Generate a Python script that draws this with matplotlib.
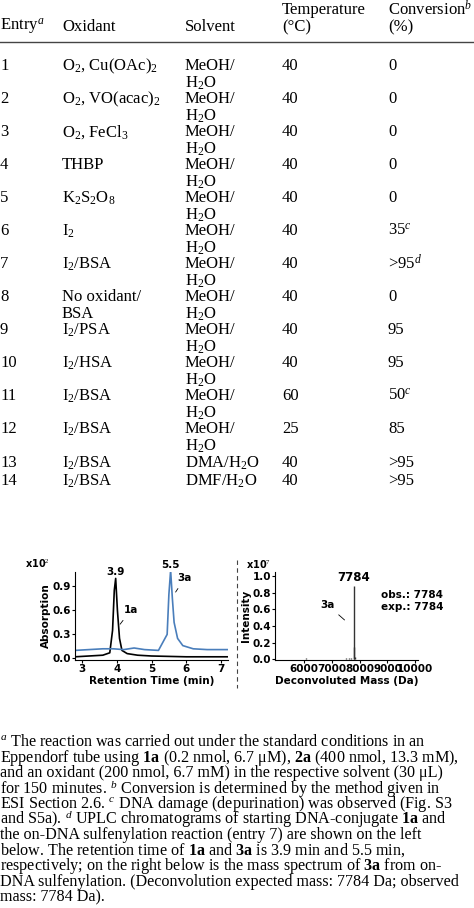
import matplotlib.pyplot as plt

plt.rcParams['mathtext.fontset'] = 'custom'
plt.rcParams['mathtext.rm'] = 'Liberation Serif'
plt.rcParams['mathtext.it'] = 'Liberation Serif:italic'
plt.rcParams['mathtext.bf'] = 'Liberation Serif:bold'

W, H = 474, 908
SERIF = 'Liberation Serif'

# table data
entries = ['1', '2', '3', '4', '5', '6', '7', '8', '9', '10', '11', '12', '13', '14']
oxidants = [r'O$_2$, Cu(OAc)$_2$', r'O$_2$, VO(acac)$_2$', r'O$_2$, FeCl$_3$', 'THBP',
            r'K$_2$S$_2$O$_8$', r'I$_2$', r'I$_2$/BSA', 'No oxidant/\nBSA', r'I$_2$/PSA',
            r'I$_2$/HSA', r'I$_2$/BSA', r'I$_2$/BSA', r'I$_2$/BSA', r'I$_2$/BSA']
solvents = ['MeOH/\nH$_2$O'] * 12 + [r'DMA/H$_2$O', r'DMF/H$_2$O']
temps = ['40'] * 10 + ['60', '25', '40', '40']
convs = ['0', '0', '0', '0', '0', r'35$^{c}$', r'>95$^{d}$', '0', '95', '95',
         r'50$^{c}$', '85', '>95', '>95']

# UPLC traces (retention time min, absorption x10^2)
t_1a = [2.8, 3.2, 3.6, 3.8, 3.88, 3.93, 3.97, 4.02, 4.08, 4.15, 4.3, 4.6, 5.0, 6.0, 7.2]
a_1a = [0.02, 0.03, 0.04, 0.07, 0.35, 0.85, 1.0, 0.6, 0.25, 0.1, 0.06, 0.04, 0.03, 0.02, 0.02]
t_3a = [2.8, 3.2, 3.6, 3.9, 4.2, 4.5, 4.8, 5.2, 5.45, 5.5, 5.55, 5.6, 5.65, 5.75, 5.9, 6.2, 6.6, 7.2]
a_3a = [0.1, 0.11, 0.12, 0.12, 0.11, 0.13, 0.11, 0.1, 0.3, 0.8, 1.1, 0.75, 0.45, 0.25, 0.16, 0.12, 0.11, 0.11]

# deconvoluted mass spectrum
mass = [5600, 6050, 7500, 7600, 7700, 7784, 7810, 7840]
inten = [0.005, 0.01, 0.01, 0.015, 0.02, 0.88, 0.15, 0.03]

fig = plt.figure(figsize=(W / 100, H / 100), dpi=100)


def txt(x, y, s, **kw):
    kw.setdefault('fontsize', 12)
    kw.setdefault('family', SERIF)
    fig.text(x / W, 1 - y / H, s, va='center', ha=kw.pop('ha', 'left'),
             linespacing=1.25, **kw)


# header
txt(0, 27, r'Entry$^{a}$')
txt(62, 27, 'Oxidant')
txt(185, 27, 'Solvent')
txt(282, 10, 'Temperature')
txt(282, 27, '(°C)')
txt(388, 10, r'Conversion$^{b}$')
txt(388, 27, '(%)')
fig.add_artist(plt.Line2D([0, 1], [1 - 42 / H] * 2, color='#444444', lw=1.0))

for i in range(len(entries)):
    y = 66 + 33 * i if i < 13 else 481
    if i == 12:
        y = 463
    txt(0, y, entries[i])
    if '\n' in oxidants[i]:
        txt(62, y, 'No oxidant/')
        txt(62, y + 17, 'BSA')
    else:
        txt(62, y, oxidants[i])
    if '\n' in solvents[i]:
        txt(185, y, 'MeOH/')
        txt(185, y + 17, r'H$_2$O')
    else:
        txt(185, y, solvents[i])
    txt(282, y, temps[i])
    txt(388, y, convs[i])

# left chart
sf = dict(family='DejaVu Sans', fontweight='bold')
ax1 = fig.add_axes([75 / W, 1 - 660 / H, 153 / W, 88 / H])
ax1.plot(t_1a, a_1a, color='black', lw=1.2)
ax1.plot(t_3a, a_3a, color='#4a7ebb', lw=1.2)
ax1.set_xlim(2.8, 7.2)
ax1.set_ylim(-0.02, 1.08)
ax1.set_xticks([3, 4, 5, 6, 7])
ax1.set_yticks([0.0, 0.3, 0.6, 0.9])
ax1.set_yticklabels(['0.0', '0.3', '0.6', '0.9'])
for s in ['top', 'right']:
    ax1.spines[s].set_visible(False)
ax1.tick_params(labelsize=7.5, length=2, pad=1)
for lab in ax1.get_xticklabels() + ax1.get_yticklabels():
    lab.set_fontweight('bold')
ax1.set_xlabel('Retention Time (min)', fontsize=7.5, labelpad=1, **sf)
ax1.set_ylabel('Absorption', fontsize=7.5, labelpad=1, **sf)
ax1.text(-0.33, 1.05, r'x10$^2$', transform=ax1.transAxes, fontsize=7, **sf)
ax1.text(3.97, 1.02, '3.9', ha='center', va='bottom', fontsize=7.5, **sf)
ax1.text(5.55, 1.1, '5.5', ha='center', va='bottom', fontsize=7.5, **sf)
ax1.annotate('1a', xy=(4.05, 0.4), xytext=(4.4, 0.6), fontsize=7.5, ha='center', va='center',
             arrowprops=dict(arrowstyle='-', lw=0.6), **sf)
ax1.annotate('3a', xy=(5.65, 0.8), xytext=(5.95, 1.0), fontsize=7.5, ha='center', va='center',
             arrowprops=dict(arrowstyle='-', lw=0.6), **sf)

# right chart
ax2 = fig.add_axes([275 / W, 1 - 660 / H, 143 / W, 88 / H])
ax2.vlines(mass, 0, inten, color='#333333', lw=1.0)
ax2.set_xlim(4950, 10100)
ax2.set_ylim(-0.01, 1.05)
ax2.set_xticks([6000, 7000, 8000, 9000, 10000])
ax2.set_yticks([0.0, 0.2, 0.4, 0.6, 0.8, 1.0])
for s in ['top', 'right']:
    ax2.spines[s].set_visible(False)
ax2.tick_params(labelsize=7.5, length=2, pad=1)
for lab in ax2.get_xticklabels() + ax2.get_yticklabels():
    lab.set_fontweight('bold')
ax2.set_xlabel('Deconvoluted Mass (Da)', fontsize=7.5, labelpad=1, **sf)
ax2.set_ylabel('Intensity', fontsize=7.5, labelpad=1, **sf)
ax2.text(-0.2, 1.03, r'x10$^7$', transform=ax2.transAxes, fontsize=7, **sf)
ax2.text(7784, 0.9, '7784', ha='center', va='bottom', fontsize=8.5, **sf)
ax2.annotate('3a', xy=(7530, 0.45), xytext=(6850, 0.65), fontsize=7.5, ha='center', va='center',
             arrowprops=dict(arrowstyle='-', lw=0.6), **sf)
ax2.text(8750, 0.7, 'obs.: 7784\nexp.: 7784', fontsize=7.5, va='center', linespacing=1.3, **sf)

fig.add_artist(plt.Line2D([237 / W] * 2, [1 - 560 / H, 1 - 688 / H], color='#444444',
                          lw=0.8, ls=(0, (4, 3))))

# footnotes
foot = [
    r'$^{a}$ The reaction was carried out under the standard conditions in an',
    r'Eppendorf tube using $\mathbf{1a}$ (0.2 nmol, 6.7 μM), $\mathbf{2a}$ (400 nmol, 13.3 mM),',
    r'and an oxidant (200 nmol, 6.7 mM) in the respective solvent (30 μL)',
    r'for 150 minutes. $^{b}$ Conversion is determined by the method given in',
    r'ESI Section 2.6. $^{c}$ DNA damage (depurination) was observed (Fig. S3',
    r'and S5a). $^{d}$ UPLC chromatograms of starting DNA-conjugate $\mathbf{1a}$ and',
    r'the on-DNA sulfenylation reaction (entry 7) are shown on the left',
    r'below. The retention time of $\mathbf{1a}$ and $\mathbf{3a}$ is 3.9 min and 5.5 min,',
    r'respectively; on the right below is the mass spectrum of $\mathbf{3a}$ from on-',
    r'DNA sulfenylation. (Deconvolution expected mass: 7784 Da; observed',
    'mass: 7784 Da).',
]
for k, line in enumerate(foot):
    txt(0, 742 + 15.5 * k, line, fontsize=11.6)

fig.savefig('out.png', dpi=100)
